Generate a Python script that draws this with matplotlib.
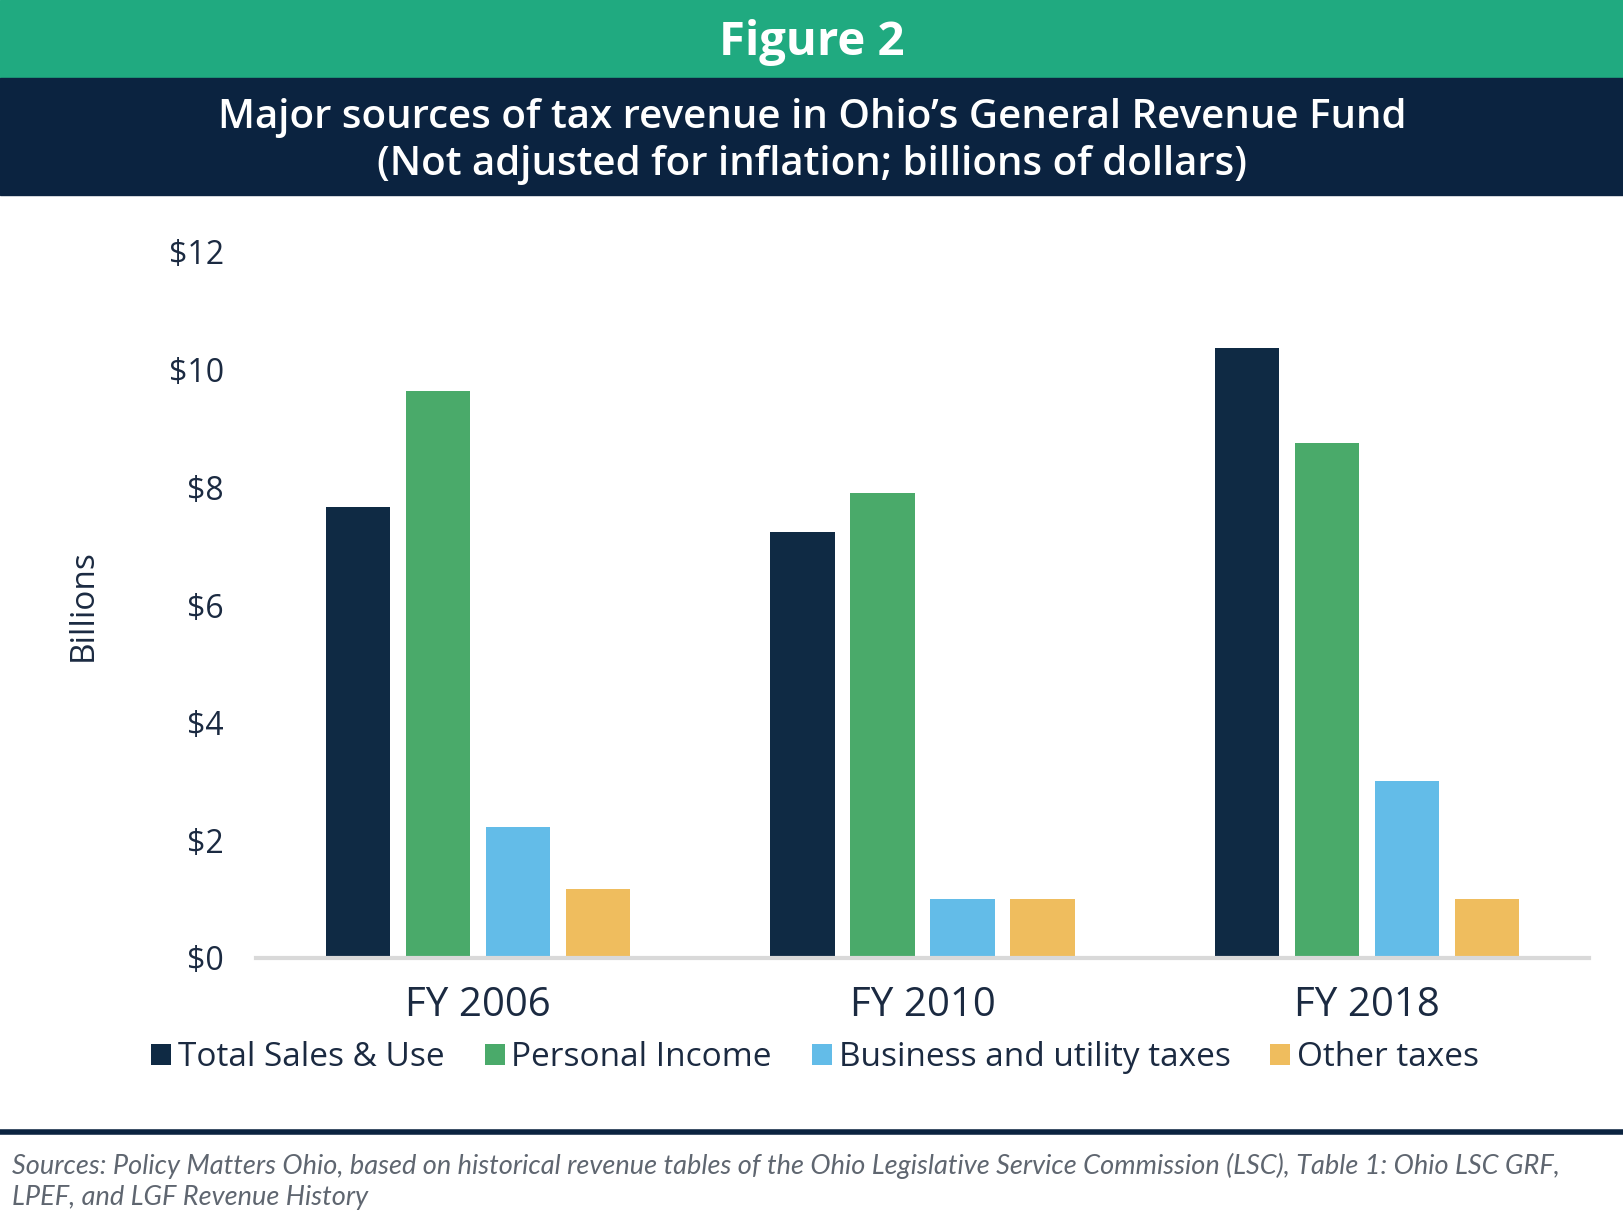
import numpy as np
import matplotlib
matplotlib.use("Agg")
import matplotlib.pyplot as plt
from matplotlib.patches import Rectangle

plt.rcParams['font.family'] = ['Open Sans', 'DejaVu Sans']

years = ['FY 2006', 'FY 2010', 'FY 2018']
series = ['Total Sales & Use', 'Personal Income', 'Business and utility taxes', 'Other taxes']
sales_use = [7.67, 7.24, 10.36]
personal_income = [9.64, 7.90, 8.76]
business_utility = [2.22, 1.00, 3.01]
other_taxes = [1.18, 1.00, 1.00]
colors = ['#0F2A44', '#4AAA6A', '#63BCE8', '#EFBD5E']
yticks = [0, 2, 4, 6, 8, 10, 12]

navy = '#0B2340'
text_col = '#1B2A41'

fig = plt.figure(figsize=(16.24, 12.2), dpi=100)

# header bands
fig.patches.append(Rectangle((0, 1 - 78 / 1220), 1, 78 / 1220, transform=fig.transFigure,
                             color='#20AA80', zorder=0))
fig.patches.append(Rectangle((0, 1 - 195 / 1220), 1, 117 / 1220, transform=fig.transFigure,
                             color=navy, zorder=0))
fig.text(0.5, 1 - 43 / 1220, 'Figure 2', color='white', fontsize=34, fontweight='bold',
         ha='center', va='center')
fig.text(0.5, 1 - 118 / 1220, 'Major sources of tax revenue in Ohio\u2019s General Revenue Fund',
         color='white', fontsize=29, fontweight='semibold', ha='center', va='center')
fig.text(0.5, 1 - 165 / 1220, '(Not adjusted for inflation; billions of dollars)',
         color='white', fontsize=29, fontweight='semibold', ha='center', va='center')

ax = fig.add_axes([256 / 1624, 1 - 958 / 1220, (1589 - 256) / 1624, (958 - 252) / 1220])
x = np.arange(len(years))
width = 0.145
offsets = [-0.27, -0.09, 0.09, 0.27]
data = [sales_use, personal_income, business_utility, other_taxes]
for vals, off, col, name in zip(data, offsets, colors, series):
    ax.bar(x + off, vals, width, color=col, label=name, zorder=2)

ax.set_xlim(-0.5, 2.5)
ax.set_ylim(0, 12)
ax.set_yticks(yticks)
ax.set_yticklabels(['$%d' % v for v in yticks])
ax.set_xticks(x)
ax.set_xticklabels(years)
for s in ['top', 'right', 'left']:
    ax.spines[s].set_visible(False)
ax.spines['bottom'].set_color('#D9D9D9')
ax.spines['bottom'].set_linewidth(3)
ax.spines['bottom'].set_zorder(3)
ax.tick_params(axis='both', length=0, colors=text_col, labelsize=23)
ax.tick_params(axis='y', pad=23)
ax.tick_params(axis='x', labelsize=29, pad=20)
ax.set_ylabel('Billions', fontsize=24, color=text_col, labelpad=50)

leg = fig.legend(loc='center', bbox_to_anchor=(0.502, 1 - 1058 / 1220), ncol=4, frameon=False,
                 fontsize=24, handlelength=0.6, handleheight=0.6, handletextpad=0.2,
                 columnspacing=1.2)
for t in leg.get_texts():
    t.set_color(text_col)

# bottom rule and sources
fig.add_artist(plt.Line2D([0, 1], [1 - 1132 / 1220] * 2, color=navy, linewidth=4,
                          transform=fig.transFigure))
src_font = ['Lato', 'DejaVu Sans']
fig.text(12 / 1624, 1 - 1166 / 1220,
         'Sources: Policy Matters Ohio, based on historical revenue tables of the Ohio Legislative '
         'Service Commission (LSC), Table 1: Ohio LSC GRF,',
         color='#5F6670', fontsize=19.5, style='italic', ha='left', va='center', family=src_font)
fig.text(12 / 1624, 1 - 1197 / 1220, 'LPEF, and LGF Revenue History',
         color='#5F6670', fontsize=19.5, style='italic', ha='left', va='center', family=src_font)

fig.savefig('out.png', dpi=100, facecolor='white')
